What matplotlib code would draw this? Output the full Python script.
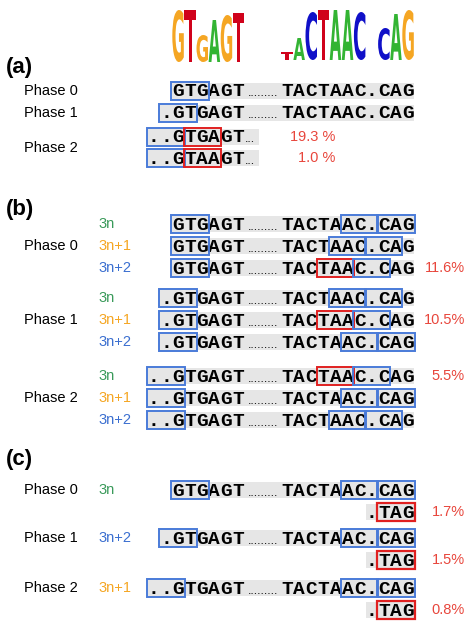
import matplotlib
matplotlib.use("Agg")
import matplotlib.pyplot as plt
from matplotlib.patches import Rectangle, PathPatch
from matplotlib.textpath import TextPath
from matplotlib.font_manager import FontProperties
from matplotlib.transforms import Affine2D

# ---------------- data ----------------
logo_seg0 = [("G", 10), ("T", 10), ("G", 35), ("A", 20), ("G", 15), ("T", 13)]
logo_seg1 = [("T", 52), ("A", 38), ("C", 12), ("T", 10), ("A", 10), ("A", 10), ("C", 12), (None, 0), ("C", 28), ("A", 14), ("G", 10)]
logo_colors = {"G": "#f5a623", "T": "#d0021b", "A": "#33b433", "C": "#1010c8"}
LOGO_BOTTOM = [62, 60]

seq1 = "TACTAAC.CAG"
frame_labels = ["3n", "3n+1", "3n+2"]
frame_colors = {"3n": "#3a9a5a", "3n+1": "#f5a623", "3n+2": "#3b6fd0"}
BLUE = "#4a7bd8"; RED = "#e02020"; PCT = "#e8463c"

# rows: (y, leading dots, seg1 shown, boxes as (segment, start, end, colour))
rows_a = [
    (91, 0, True, [(0, 0, 2, BLUE)]),
    (113, 1, True, [(0, -1, 1, BLUE)]),
    (137, 2, False, [(0, -2, 0, BLUE), (0, 1, 3, RED)]),
    (158, 2, False, [(0, -2, 0, BLUE), (0, 1, 3, RED)]),
]
seq_a_short = ["GTGAGT", "GTGAGT", "GTGAGT", "GTAAGT"]
pct_a = [(137, "19.3 %"), (158, "1.0 %")]

b_boxes = {"3n": [(1, 5, 7, BLUE), (1, 8, 10, BLUE)],
           "3n+1": [(1, 4, 6, BLUE), (1, 7, 9, BLUE)],
           "3n+2": [(1, 3, 5, RED), (1, 6, 8, BLUE)]}
b_phase_y = [[224, 246, 268], [298, 320, 342], [376, 398, 420]]
b_phase_frames = [["3n", "3n+1", "3n+2"], ["3n+1", "3n+2", "3n"], ["3n+2", "3n", "3n+1"]]
b_pct = [(268, "11.6%"), (320, "10.5%"), (376, "5.5%")]
phase_lead = [(0, 0, 2), (1, -1, 1), (2, -2, 0)]

c_y = [490, 538, 588]
c_frames = ["3n", "3n+2", "3n+1"]
c_pct = ["1.7%", "1.5%", "0.8%"]

# ---------------- drawing ----------------
fig = plt.figure(figsize=(4.74, 6.33), dpi=100)
ax = fig.add_axes([0, 0, 1, 1])
ax.set_xlim(0, 474); ax.set_ylim(633, 0); ax.axis("off")

W = 12.1
X0 = [172, 281]
mono = FontProperties(family="Liberation Mono", weight="bold")
sans = "Liberation Sans"

def cx(seg, i):
    return X0[seg] + i * W

logo_fp = FontProperties(family="Liberation Sans Narrow", weight="bold")
def draw_letter(ch, x, ytop, ybot, w):
    tp = TextPath((0, 0), ch, size=1, prop=logo_fp)
    bb = tp.get_extents()
    tr = Affine2D().translate(-bb.x0, -bb.y0).scale(w / bb.width, -(ybot - ytop) / bb.height).translate(x, ybot)
    ax.add_patch(PathPatch(tr.transform_path(tp), fc=logo_colors[ch], ec="none"))

for seg, logo in enumerate([logo_seg0, logo_seg1]):
    for i, (ch, top) in enumerate(logo):
        if ch is None:
            continue
        draw_letter(ch, cx(seg, i) + 0.3, top, LOGO_BOTTOM[seg], W - 0.6)

def seq_row(y, lead, full, boxes, s0="GTGAGT", gray=True):
    start = cx(0, -lead)
    end = cx(1, 11) if full else cx(0, 6) + 14
    if gray:
        ax.add_patch(Rectangle((start, y - 8), end - start, 16, fc="#e6e6e6", ec="none", zorder=0))
    for k in range(lead):
        ax.text(cx(0, -lead + k) + W / 2, y + 5.5, ".", fontproperties=mono, fontsize=14, ha="center", va="baseline")
    for i, ch in enumerate(s0):
        ax.text(cx(0, i) + W / 2, y + 5.5, ch, fontproperties=mono, fontsize=14, ha="center", va="baseline")
    if full:
        ax.text((cx(0, 6) + cx(1, 0)) / 2, y + 5.5, ".........", family=sans, fontsize=9, ha="center", va="baseline")
        for i, ch in enumerate(seq1):
            ax.text(cx(1, i) + W / 2, y + 5.5, ch, fontproperties=mono, fontsize=14, ha="center", va="baseline")
    else:
        ax.text(cx(0, 6), y + 5.5, "...", family=sans, fontsize=9, ha="left", va="baseline")
    for seg, a, b, col in boxes:
        ax.add_patch(Rectangle((cx(seg, a) - 0.5, y - 9), (b - a + 1) * W + 1, 18, fc="none", ec=col, lw=1.4, zorder=3))

def label(x, y, s, color="black", size=10.5, **kw):
    ax.text(x, y, s, family=sans, fontsize=size, color=color, va="center", **kw)

# panel (a)
label(6, 68, "(a)", size=16, weight="bold")
for (y, lead, full, boxes), s0 in zip(rows_a, seq_a_short):
    seq_row(y, lead, full, boxes, s0)
label(24, 91, "Phase 0"); label(24, 113, "Phase 1"); label(24, 148, "Phase 2")
for y, s in pct_a:
    label(290 if "19" in s else 298, y, s, color=PCT)

# panel (b)
label(6, 210, "(b)", size=16, weight="bold")
for p, (ys, frames) in enumerate(zip(b_phase_y, b_phase_frames)):
    lead, a, b = phase_lead[p]
    label(24, ys[1], "Phase %d" % p)
    for y, fr, nm in zip(ys, frames, frame_labels):
        label(98, y, nm, color=frame_colors[nm])
        seq_row(y, lead, True, [(0, a, b, BLUE)] + b_boxes[fr])
for y, s in b_pct:
    label(465, y, s, color=PCT, ha="right")

# panel (c)
label(6, 460, "(c)", size=16, weight="bold")
for p, (y, fr) in enumerate(zip(c_y, c_frames)):
    lead, a, b = phase_lead[p]
    label(24, y, "Phase %d" % p)
    label(98, y, fr, color=frame_colors[fr])
    seq_row(y, lead, True, [(0, a, b, BLUE), (1, 5, 7, BLUE), (1, 8, 10, BLUE)])
    y2 = y + 22
    ax.add_patch(Rectangle((cx(1, 7), y2 - 8), 4 * W, 16, fc="#e6e6e6", ec="none", zorder=0))
    for i, ch in enumerate(".TAG"):
        ax.text(cx(1, 7 + i) + W / 2, y2 + 5.5, ch, fontproperties=mono, fontsize=14, ha="center", va="baseline")
    ax.add_patch(Rectangle((cx(1, 8) - 0.5, y2 - 9), 3 * W + 1, 18, fc="none", ec=RED, lw=1.6, zorder=3))
    label(465, y2, c_pct[p], color=PCT, ha="right")

fig.savefig("out.png", dpi=100)
